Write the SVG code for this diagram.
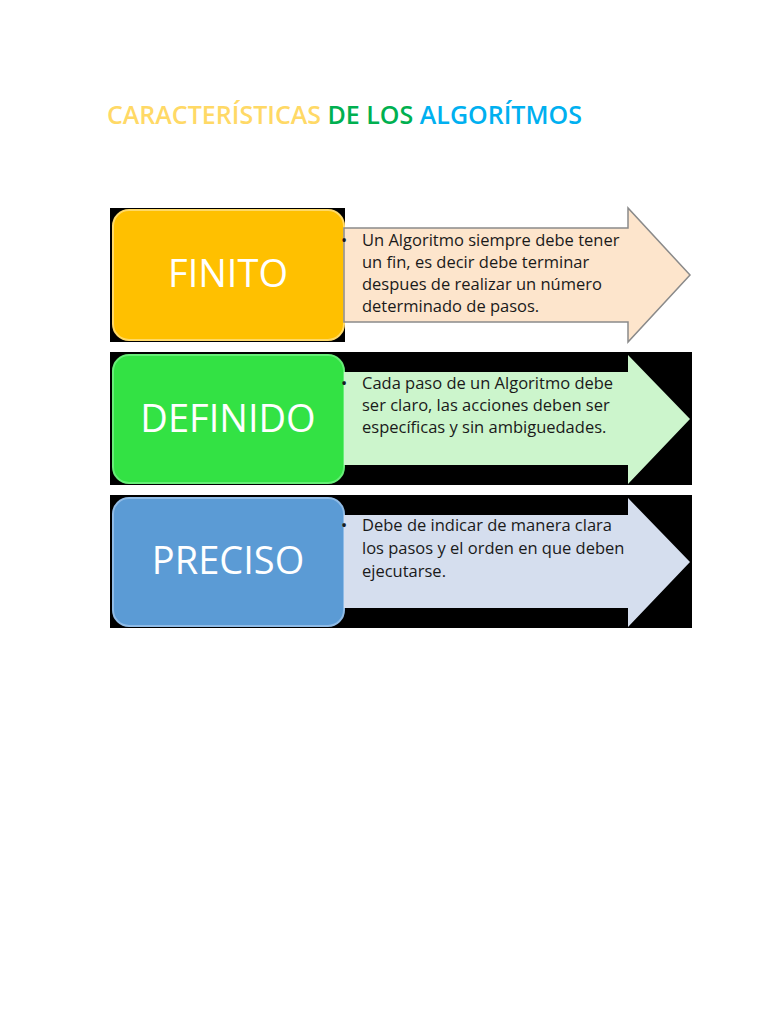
<svg xmlns="http://www.w3.org/2000/svg" width="768" height="1024" viewBox="0 0 768 1024">
<style>
.t{font-family:"Open Sans","Liberation Sans",sans-serif;font-size:16.5px;fill:#1a1a1a}
.k{font-family:"Open Sans","Liberation Sans",sans-serif;font-size:38px;fill:#fff;text-anchor:middle}
.a{stroke:#8a8a8a;stroke-width:1.5}
</style>
<rect width="768" height="1024" fill="#fff"/>
<text x="107" y="124" font-family="'Open Sans','Liberation Sans',sans-serif" font-size="25" font-weight="600"><tspan fill="#ffd966">CARACTERÍSTICAS </tspan><tspan fill="#00b050">DE LOS </tspan><tspan fill="#00b0f0">ALGORÍTMOS</tspan></text>
<g id="finito">
<rect x="110" y="208" width="235" height="134" fill="#000"/>
<rect x="113" y="210" width="231" height="130" rx="16" fill="#ffc000" stroke="#ffd966" stroke-width="2"/>
<text class="k" x="228" y="287">FINITO</text>
<path class="a" d="M344 228H628V208L690 275L628 342V322H344Z" fill="#fde5cc"/>
<text class="t" x="341" y="246">•</text>
<text class="t"><tspan x="362" y="246">Un Algoritmo siempre debe tener</tspan><tspan x="362" y="268">un fin, es decir debe terminar</tspan><tspan x="362" y="290">despues de realizar un número</tspan><tspan x="362" y="312">determinado de pasos.</tspan></text>
</g>
<g id="definido">
<rect x="110" y="352" width="582" height="133" fill="#000"/>
<rect x="113" y="355" width="231" height="128" rx="16" fill="#33e244" stroke="#66ee77" stroke-width="2"/>
<text class="k" x="228" y="432">DEFINIDO</text>
<path d="M344 372H628V355L690 419L628 484V465H344Z" fill="#ccf5cc"/>
<text class="t" x="341" y="389">•</text>
<text class="t"><tspan x="362" y="389">Cada paso de un Algoritmo debe</tspan><tspan x="362" y="411">ser claro, las acciones deben ser</tspan><tspan x="362" y="433">específicas y sin ambiguedades.</tspan></text>
</g>
<g id="preciso">
<rect x="110" y="495" width="582" height="133" fill="#000"/>
<rect x="113" y="498" width="231" height="128" rx="16" fill="#5b9bd5" stroke="#8fbbe6" stroke-width="2"/>
<text class="k" x="228" y="574">PRECISO</text>
<path d="M344 515H628V498L690 562L628 627V608H344Z" fill="#d5deee"/>
<text class="t" x="341" y="531">•</text>
<text class="t"><tspan x="362" y="531">Debe de indicar de manera clara</tspan><tspan x="362" y="554">los pasos y el orden en que deben</tspan><tspan x="362" y="577">ejecutarse.</tspan></text>
</g>
<g id="connectors"/>
</svg>
